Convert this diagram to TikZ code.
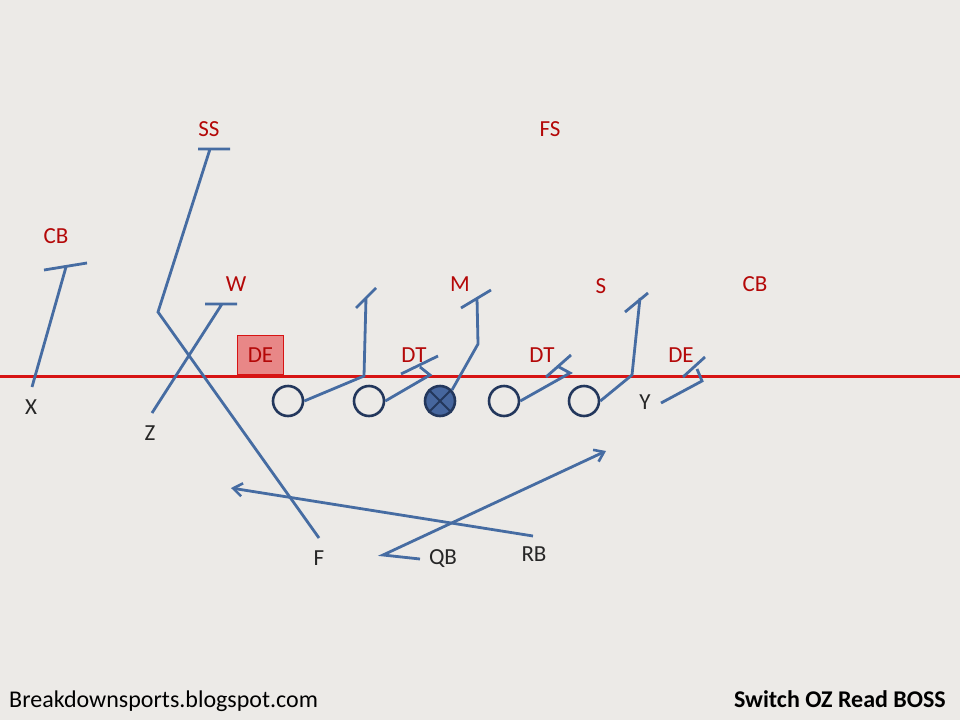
\documentclass[tikz,border=0pt]{standalone}
\usepackage{fontspec}
\setmainfont{Carlito}
\usetikzlibrary{arrows.meta}
\definecolor{bg}{RGB}{236,234,231}
\definecolor{route}{RGB}{70,108,162}
\definecolor{navy}{RGB}{35,55,92}
\definecolor{ctr}{RGB}{70,102,158}
\definecolor{deflab}{RGB}{180,8,8}
\definecolor{los}{RGB}{215,20,20}
\definecolor{debox}{RGB}{232,135,135}
\begin{document}
\begin{tikzpicture}[x=1pt,y=-1pt,
  rt/.style={draw=route,line width=2.8pt,line join=miter},
  rtarrow/.style={rt,-{Straight Barb[length=9pt,width=13pt,line width=2.6pt]}},
  dlab/.style={text=deflab,font=\fontsize{23}{25}\selectfont,inner sep=0pt},
  olab/.style={text=black!85,font=\fontsize{23}{25}\selectfont,inner sep=0pt},
  lineman/.style={circle,draw=navy,line width=2.6pt,minimum size=30pt,inner sep=0pt},
  foot/.style={text=black,font=\fontsize{24}{27}\selectfont,inner sep=0pt}]
\fill[bg] (0,0) rectangle (960,720);
\useasboundingbox (0,0) rectangle (960,720);

% line of scrimmage
\coordinate (losL) at (0,376);
\coordinate (losR) at (960,376);
\draw[los,line width=3pt] (losL) -- (losR);

% DE box
\node[draw=los,fill=debox,line width=1.8pt,minimum width=46pt,minimum height=39pt,inner sep=0pt,
  text=deflab,font=\fontsize{23}{25}\selectfont] (deL) at (260.5,355) {DE};

% defensive labels
\node[dlab] (ss) at (209,129) {SS};
\node[dlab] (fs) at (550,129) {FS};
\node[dlab] (cbL) at (56,236) {CB};
\node[dlab] (w) at (236,284) {W};
\node[dlab] (m) at (460,284) {M};
\node[dlab] (s) at (601,286) {S};
\node[dlab] (cbR) at (755,284) {CB};
\node[dlab] (dt1) at (414,355) {DT};
\node[dlab] (dt2) at (542,355) {DT};
\node[dlab] (deR) at (681,355) {DE};

% offensive labels
\node[olab] (x) at (31,407) {X};
\node[olab] (z) at (150,433) {Z};
\node[olab] (y) at (645,402) {Y};
\node[olab] (f) at (319,558) {F};
\node[olab] (qb) at (443,559) {QB};
\node[olab] (rb) at (534,554) {RB};

% linemen
\node[lineman] (lt) at (288,401) {};
\node[lineman] (lg) at (369,401) {};
\node[lineman,fill=ctr] (c) at (440,401) {};
\node[lineman] (rg) at (504,401) {};
\node[lineman] (rtk) at (584,401) {};
\draw[navy,line width=2pt] (c.north west) -- (c.south east) (c.north east) -- (c.south west);

% X route
\coordinate (x0) at (32,387); \coordinate (x1) at (66,267);
\coordinate (xb1) at (44,270); \coordinate (xb2) at (87,263);
\draw[rt] (x0) -- (x1) (xb1) -- (xb2);

% F route to SS
\coordinate (f0) at (319,538); \coordinate (f1) at (158,312); \coordinate (f2) at (210,149);
\coordinate (fb1) at (198,149); \coordinate (fb2) at (230,149);
\draw[rt] (f0) -- (f1) -- (f2) (fb1) -- (fb2);

% Z route to W
\coordinate (z0) at (152,413); \coordinate (z1) at (222,304);
\coordinate (zb1) at (205,304); \coordinate (zb2) at (237,304);
\draw[rt] (z0) -- (z1) (zb1) -- (zb2);

% LT
\coordinate (lt1) at (364,376); \coordinate (lt2) at (366,298);
\coordinate (ltb1) at (356,308); \coordinate (ltb2) at (376,288);
\draw[rt] (lt.east) -- (lt1) -- (lt2) (ltb1) -- (ltb2);

% LG block DT
\coordinate (lg1) at (430,375); \coordinate (lg2) at (420,367);
\coordinate (lgb1) at (401,374); \coordinate (lgb2) at (438,356);
\draw[rt] (lg.east) -- (lg1) -- (lg2) (lgb1) -- (lgb2);

% C to M
\coordinate (c1) at (478,344); \coordinate (c2) at (477,298);
\coordinate (cb1) at (461,308); \coordinate (cb2) at (491,290);
\draw[rt] (452,390) -- (c1) -- (c2) (cb1) -- (cb2);

% RG block DT
\coordinate (rg1) at (570,373); \coordinate (rg2) at (559,367);
\coordinate (rgb1) at (546,377); \coordinate (rgb2) at (571,355);
\draw[rt] (rg.east) -- (rg1) -- (rg2) (rgb1) -- (rgb2);

% RT to S
\coordinate (rt1) at (632,375); \coordinate (rt2) at (640,298);
\coordinate (rtb1) at (625,312); \coordinate (rtb2) at (648,293);
\draw[rt] (rtk.east) -- (rt1) -- (rt2) (rtb1) -- (rtb2);

% Y block DE
\coordinate (y0) at (661,403); \coordinate (y1) at (702,381); \coordinate (y2) at (697,369);
\coordinate (yb1) at (683,377); \coordinate (yb2) at (705,357);
\draw[rt] (y0) -- (y1) -- (y2) (yb1) -- (yb2);

% RB arrow
\coordinate (rb0) at (533,536); \coordinate (rb1) at (231,488);
\draw[rtarrow] (rb0) -- (rb1);

% QB
\coordinate (qb0) at (420,559); \coordinate (qb1) at (383,555); \coordinate (qb2) at (606,451);
\draw[rtarrow] (qb0) -- (qb1) -- (qb2);

% footer
\node[foot,anchor=base west] (site) at (9,707) {Breakdownsports.blogspot.com};
\node[foot,anchor=base east,font=\fontsize{24}{27}\selectfont\bfseries] (title) at (946,707) {Switch OZ Read BOSS};
\end{tikzpicture}
\end{document}
